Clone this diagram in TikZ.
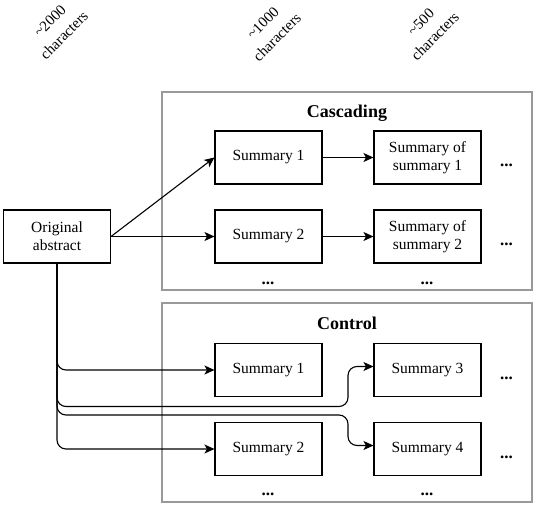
\documentclass[tikz,border=0pt]{standalone}
\usepackage{fontspec}
\setmainfont{Liberation Serif}
\usetikzlibrary{arrows.meta}
\begin{document}
\begin{tikzpicture}[x=1pt,y=-1pt,
  box/.style={draw=black, line width=1.1pt, minimum width=107pt, minimum height=53pt, inner sep=0pt, align=center, font=\fontsize{15.5}{18}\selectfont},
  group/.style={draw=black!40, line width=2pt, inner sep=0pt, minimum width=370pt},
  title/.style={font=\fontsize{18}{21}\selectfont\bfseries},
  dots/.style={font=\fontsize{17}{18}\selectfont\bfseries, anchor=base, inner sep=0pt},
  lbl/.style={rotate=45, align=center, inner sep=0pt, font=\fontsize{15}{20}\selectfont},
  arr/.style={-{Stealth[length=10pt,width=9pt,inset=2.5pt]}, line width=1.1pt},
]
\useasboundingbox (0,0) rectangle (537,518);

% top labels
\node[lbl] (l1) at (57,28) {\textasciitilde2000\\characters};
\node[lbl] (l2) at (270,30) {\textasciitilde1000\\characters};
\node[lbl] (l3) at (428,29) {\textasciitilde500\\characters};

% groups
\node[group, minimum height=198pt] (casc) at (347,191) {};
\node[group, minimum height=199pt] (ctrl) at (347,402.5) {};
\node[title] (tcasc) at (347,113) {Cascading};
\node[title] (tctrl) at (347,323) {Control};

% boxes
\node[box] (oa) at (57,236.5) {Original\\abstract};
\node[box] (s1) at (268.5,157.5) {Summary 1};
\node[box] (ss1) at (427.5,157.5) {Summary of\\summary 1};
\node[box] (s2) at (268.5,236.5) {Summary 2};
\node[box] (ss2) at (427.5,236.5) {Summary of\\summary 2};
\node[box] (cs1) at (268.5,370) {Summary 1};
\node[box] (cs3) at (427.5,370) {Summary 3};
\node[box] (cs2) at (268.5,449) {Summary 2};
\node[box] (cs4) at (427.5,449) {Summary 4};

% dots
\node[dots] (d1) at (506.5,167) {...};
\node[dots] (d2) at (506.5,246) {...};
\node[dots] (d3) at (268,284) {...};
\node[dots] (d4) at (427,284) {...};
\node[dots] (d5) at (506.5,379) {...};
\node[dots] (d6) at (506.5,458) {...};
\node[dots] (d7) at (268,495) {...};
\node[dots] (d8) at (427,495) {...};

% cascading arrows
\draw[arr] (oa.east) -- (s1.west);
\draw[arr] (oa.east) -- (s2.west);
\draw[arr] (s1.east) -- (ss1.west);
\draw[arr] (s2.east) -- (ss2.west);

% control arrows
\coordinate (k3) at (348,406.5);
\coordinate (k4) at (348,415);
\draw[arr, rounded corners=9pt] (oa.south) |- (cs1.west);
\draw[arr, rounded corners=9pt] (oa.south) |- (cs2.west);
\draw[arr, rounded corners=9pt] (oa.south) |- (k3) |- ([yshift=3.5pt]cs3.west);
\draw[arr, rounded corners=9pt] (oa.south) |- (k4) |- ([yshift=3.5pt]cs4.west);
\end{tikzpicture}
\end{document}
